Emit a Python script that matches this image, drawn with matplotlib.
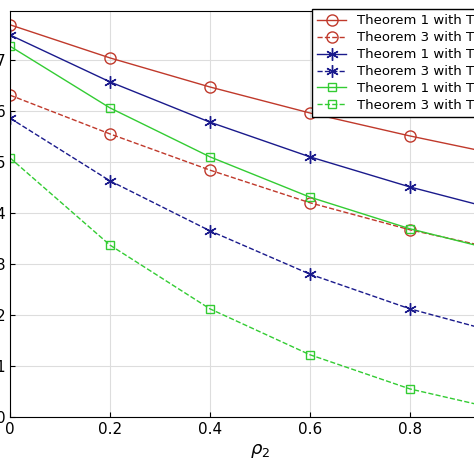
import matplotlib
matplotlib.use("Agg")
import matplotlib.pyplot as plt

x = [0, 0.2, 0.4, 0.6, 0.8, 1.0]
t1_a = [7.69, 7.04, 6.47, 5.96, 5.51, 5.10]
t3_a = [6.31, 5.55, 4.84, 4.20, 3.67, 3.24]
t1_b = [7.49, 6.57, 5.78, 5.10, 4.51, 4.00]
t3_b = [5.86, 4.63, 3.65, 2.80, 2.12, 1.59]
t1_c = [7.27, 6.06, 5.10, 4.31, 3.69, 3.20]
t3_c = [5.08, 3.37, 2.12, 1.22, 0.55, 0.10]
labels = ["Theorem 1 with T=4", "Theorem 3 with T=4",
          "Theorem 1 with T=6", "Theorem 3 with T=6",
          "Theorem 1 with T=5", "Theorem 3 with T=5"]

fig = plt.figure(figsize=(4.74, 4.74), dpi=100)
ax = fig.add_axes([10/474, 57/474, 500/474, 406/474])
red, blue, green = "#c0392b", "#1a1a8c", "#33cc33"
ast = (6, 2, 0)
ax.plot(x, t1_a, '-', color=red, marker='o', mfc='none', ms=8, lw=1, label=labels[0])
ax.plot(x, t3_a, '--', color=red, marker='o', mfc='none', ms=8, lw=1, label=labels[1])
ax.plot(x, t1_b, '-', color=blue, marker=ast, ms=9, mew=1, lw=1, label=labels[2])
ax.plot(x, t3_b, '--', color=blue, marker=ast, ms=9, mew=1, lw=1, label=labels[3])
ax.plot(x, t1_c, '-', color=green, marker='s', mfc='none', ms=6, lw=1, label=labels[4])
ax.plot(x, t3_c, '--', color=green, marker='s', mfc='none', ms=6, lw=1, label=labels[5])
ax.set_xlim(0, 1)
ax.set_ylim(0, 7.96)
ax.set_xticks([0, 0.2, 0.4, 0.6, 0.8, 1.0])
ax.set_xticklabels(["0", "0.2", "0.4", "0.6", "0.8", "1"])
ax.set_yticks(range(0, 8))
ax.grid(True, color='#dddddd', lw=0.8)
ax.tick_params(labelsize=11, direction='in')
ax.set_xlabel(r'$\rho_2$', fontsize=13)
leg = ax.legend(loc='upper left', bbox_to_anchor=(312/474, 465/474), bbox_transform=fig.transFigure,
                fontsize=9.5, fancybox=False, edgecolor='black', framealpha=1,
                handlelength=2.2, borderaxespad=0, labelspacing=0.3)
fig.savefig("out.png", dpi=100)
